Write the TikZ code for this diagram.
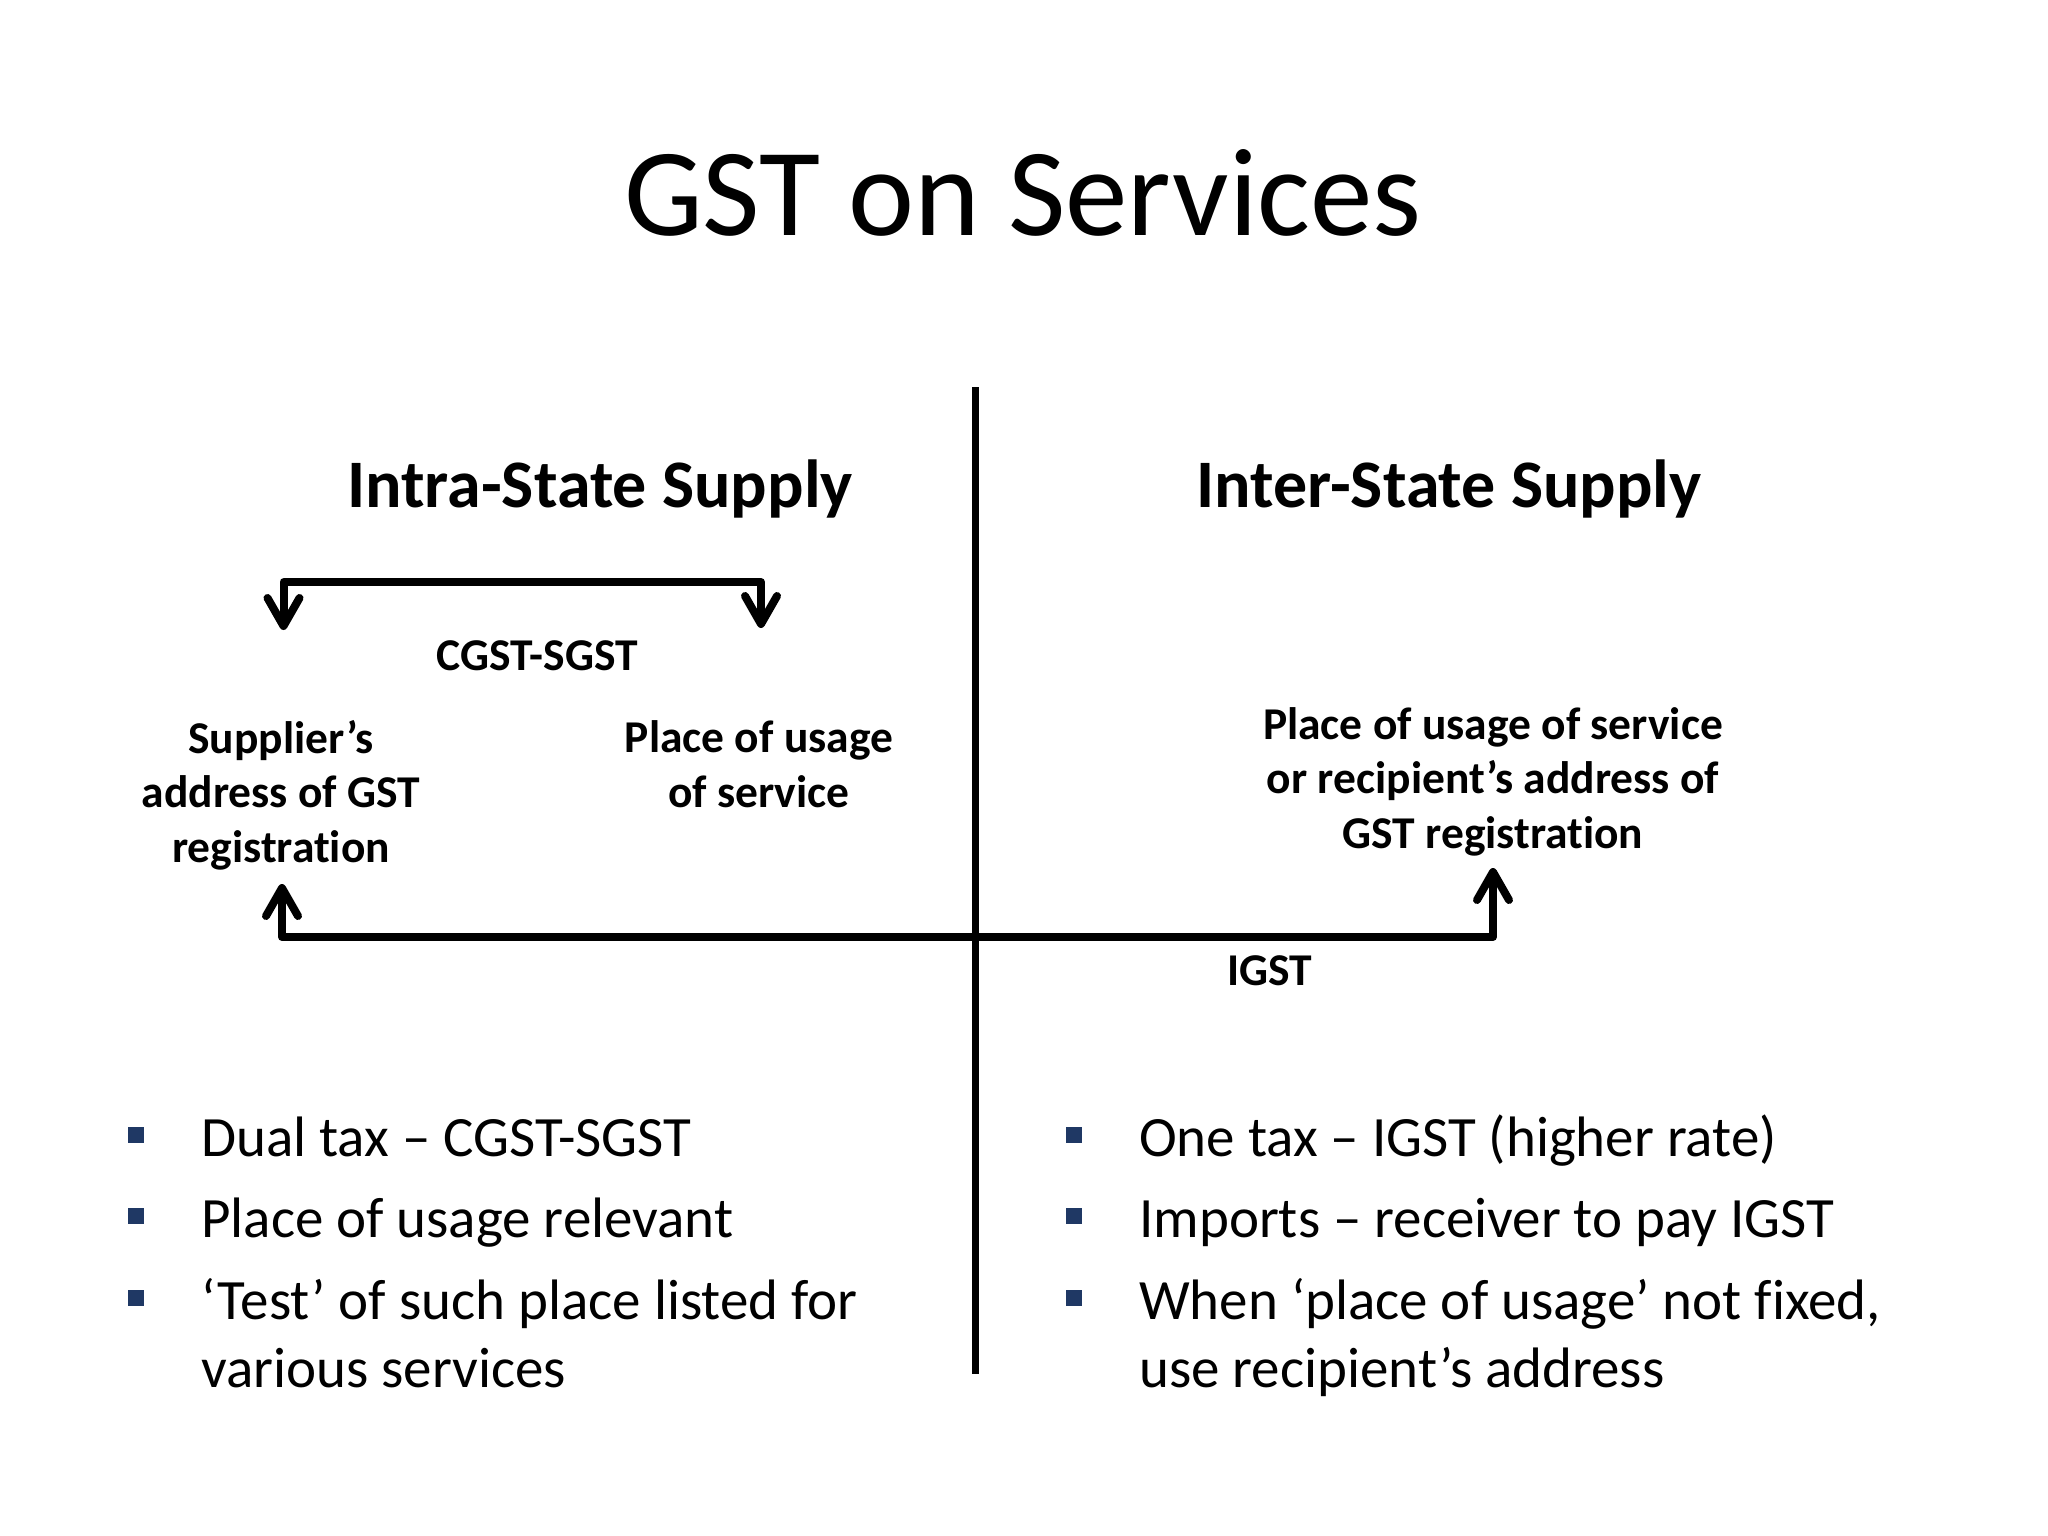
\documentclass[tikz,border=0pt]{standalone}
\usepackage{fontspec}
\setmainfont[Ligatures=NoCommon]{Carlito}
\usetikzlibrary{arrows.meta}
\definecolor{bulletblue}{HTML}{1F3864}
\tikzset{
  barb/.tip={Straight Barb[length=28pt,width=32pt,line cap=round,round]},
  conn/.style={draw=black, line width=8pt, line cap=round, line join=round},
  head/.style={font=\fontsize{68}{83}\selectfont\bfseries, inner sep=0, anchor=base},
  lab/.style={font=\fontsize{45.5}{54.5}\selectfont\bfseries, inner sep=0, align=center, anchor=base},
  btxt/.style={font=\fontsize{57}{68}\selectfont, inner sep=0, anchor=base west, align=left},
  bsq/.style={fill=bulletblue, minimum size=16pt, inner sep=0},
}
\begin{document}
\begin{tikzpicture}[x=1pt,y=-1pt]
\useasboundingbox[fill=white] (0,0) rectangle (2048,1536);
\node[inner sep=0, anchor=base, font=\fontsize{125}{150}\selectfont] (title) at (1023,235) {GST on Services};
\node[head] (intra) at (600,507) {Intra-State Supply};
\node[head] (inter) at (1449,507) {Inter-State Supply};
% divider
\coordinate (vtop) at (975.5,387);
\coordinate (vbot) at (975.5,1374);
\draw[line width=7.7pt] (vtop) -- (vbot);
% labels (anchor = baseline of last line)
\node[lab] (cgst) at (537,670) {CGST-SGST};
\node[lab] (supp) at (281,862) {Supplier’s\\address of GST\\registration};
\node[lab] (place) at (759,807) {Place of usage\\of service};
\node[lab] (rec) at (1493,848) {Place of usage of service\\or recipient’s address of\\GST registration};
\node[lab] (igst) at (1270,985) {IGST};
% top bracket
\coordinate (tl) at (283.5,582);
\coordinate (tr) at (761,582);
\coordinate (tlend) at (283.5,630);
\coordinate (trend) at (761,628);
\draw[conn, barb-barb] (tlend) -- (tl) -- (tr) -- (trend);
% bottom
\coordinate (bl) at (282,937);
\coordinate (br) at (1493,937);
\coordinate (blend) at (282,884);
\coordinate (brend) at (1493,868);
\draw[conn, barb-barb] (blend) -- (bl) -- (br) -- (brend);
% bullets left
\node[bsq] (lb1) at (135.5,1134.5) {};
\node[bsq] (lb2) at (135.5,1216) {};
\node[bsq] (lb3) at (135.5,1298) {};
\node[btxt] (lt1) at (201,1156) {Dual tax – CGST-SGST};
\node[btxt] (lt2) at (201,1237) {Place of usage relevant};
\node[btxt] (lt3) at (201,1319) {‘Test’ of such place listed for};
\node[btxt] (lt4) at (201,1387) {various services};
% bullets right
\node[bsq] (rb1) at (1074,1134.5) {};
\node[bsq] (rb2) at (1074,1216) {};
\node[bsq] (rb3) at (1074,1298) {};
\node[btxt] (rt1) at (1139,1156) {One tax – IGST (higher rate)};
\node[btxt] (rt2) at (1139,1237) {Imports – receiver to pay IGST};
\node[btxt] (rt3) at (1139,1319) {When ‘place of usage’ not fixed,};
\node[btxt] (rt4) at (1139,1387) {use recipient’s address};
\end{tikzpicture}
\end{document}
